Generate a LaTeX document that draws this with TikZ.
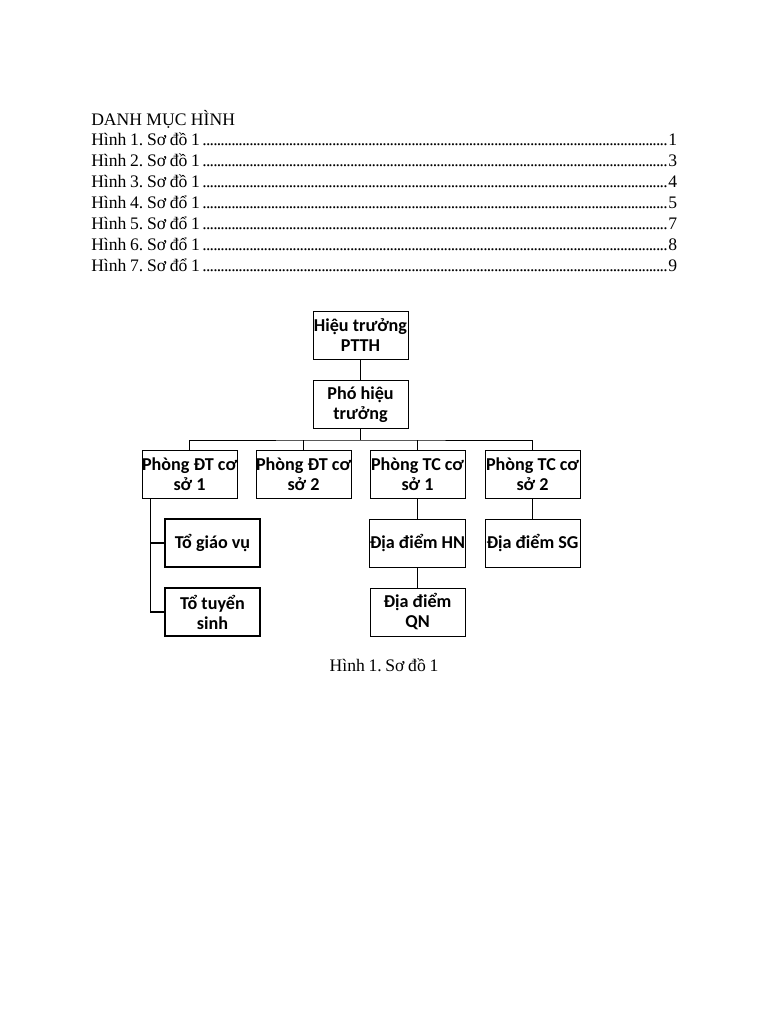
\documentclass[tikz,border=0pt]{standalone}
\usepackage{fontspec}
\setmainfont{Liberation Serif}
\newfontfamily\boxfont{Carlito}
\usetikzlibrary{calc}
\frenchspacing
\newdimen\px \px=0.75pt
\newcommand{\narrow}{\spaceskip=0.21em plus 0.05em\relax}
\newcommand{\tocline}[2]{\hbox to 586\px{\narrow #1\leaders\hbox to 3.6\px{\hss.\hss}\hfill #2}}
\tikzset{
  orgbox/.style={draw, line width=1\px, minimum width=95\px, minimum height=48\px, inner sep=0pt, align=center, font=\boxfont\bfseries\fontsize{13.6pt}{15pt}\selectfont},
  subbox/.style={orgbox, line width=1.7\px},
  link/.style={line width=1\px},
  sublink/.style={line width=1.7\px},
  toc/.style={anchor=base west, inner sep=0pt, font=\fontsize{13.2pt}{15.8pt}\selectfont}
}
\begin{document}
\begin{tikzpicture}[x=0.75pt,y=-0.75pt]
\useasboundingbox (0,0) rectangle (768,1024);
\fill[white] (0,0) rectangle (768,1024);
\node[toc] (t0) at (91,125) {DANH MỤC HÌNH};
\node[toc] (t1) at (91,145) {\tocline{Hình 1. Sơ đồ 1}{1}};
\node[toc] (t2) at (91,166) {\tocline{Hình 2. Sơ đồ 1}{3}};
\node[toc] (t3) at (91,187) {\tocline{Hình 3. Sơ đồ 1}{4}};
\node[toc] (t4) at (91,208) {\tocline{Hình 4. Sơ đổ 1}{5}};
\node[toc] (t5) at (91,229) {\tocline{Hình 5. Sơ đổ 1}{7}};
\node[toc] (t6) at (91,250) {\tocline{Hình 6. Sơ đổ 1}{8}};
\node[toc] (t7) at (91,271) {\tocline{Hình 7. Sơ đổ 1}{9}};

\node[orgbox] (ht) at (360.5,335) {Hiệu trưởng\\PTTH};
\node[orgbox] (pho) at (360.5,404.5) {Phó hiệu\\trưởng};
\node[orgbox] (p1) at (189.5,474) {Phòng ĐT cơ\\sở 1};
\node[orgbox] (p2) at (303.5,474) {Phòng ĐT cơ\\sở 2};
\node[orgbox] (p3) at (417.5,474) {Phòng TC cơ\\sở 1};
\node[orgbox] (p4) at (532.5,474) {Phòng TC cơ\\sở 2};
\node[subbox] (tg) at (212.5,543) {Tổ giáo vụ};
\node[subbox] (ts) at (212.5,612) {Tổ tuyển\\sinh};
\node[orgbox] (hn) at (417.5,543) {Địa điểm HN};
\node[orgbox] (qn) at (417.5,612) {Địa điểm\\QN};
\node[orgbox] (sg) at (532.5,543) {Địa điểm SG};

\draw[link] (ht) -- (pho);
\draw[link] (pho.south) -- ++(0,11) coordinate (j);
\draw[link] (p1.north) |- (j) -| (p4.north);
\draw[link] (p2.north) -- (p2.north |- j);
\draw[link] (p3.north) -- (p3.north |- j);
\draw[link] (p3) -- (hn);
\draw[link] (hn) -- (qn);
\draw[link] (p4) -- (sg);
\coordinate (lb) at ($(p1.south west)+(9,0)$);
\draw[sublink] (lb) |- (tg.west);
\draw[sublink] (lb) |- (ts.west);

\node[anchor=base, inner sep=0pt, font=\fontsize{13.2pt}{15.8pt}\selectfont\narrow] (cap) at (384,671) {Hình 1. Sơ đồ 1};
\end{tikzpicture}
\end{document}
